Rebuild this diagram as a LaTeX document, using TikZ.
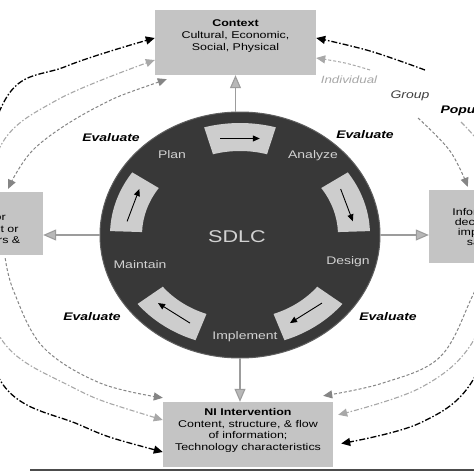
\documentclass[tikz,border=0pt]{standalone}
\usepackage{fontspec}
\setmainfont{Liberation Sans}[FakeStretch=1.27]
\usetikzlibrary{arrows.meta,shapes.geometric,calc}
\definecolor{boxgray}{HTML}{C4C4C4}
\definecolor{ellfill}{HTML}{383838}
\definecolor{ellrim}{HTML}{5E5E5E}
\definecolor{segfill}{HTML}{CDCDCD}
\definecolor{conngray}{HTML}{9C9C9C}
\definecolor{arrgray}{HTML}{B8B8B8}
\definecolor{midgray}{HTML}{A8A8A8}
\definecolor{innergray}{HTML}{858585}
\definecolor{ringtext}{HTML}{D2D2D2}
\begin{document}
\begin{tikzpicture}[x=1pt,y=-1pt,
  box/.style={draw=none,fill=boxgray,inner sep=0},
  conn/.style={draw=conngray,line width=1.1pt,-{Triangle[length=13pt,width=11pt,fill=arrgray]}},
  blkdd/.style={draw=black,line width=1.3pt,dash pattern=on 6pt off 2pt on 1.5pt off 2pt,
     >={Triangle[length=9pt,width=8pt]}},
  graydd/.style={draw=midgray,line width=1.1pt,dash pattern=on 5pt off 2pt on 1.5pt off 2pt,
     >={Triangle[length=9pt,width=8pt,fill=midgray]}},
  graydash/.style={draw=innergray,line width=1pt,dash pattern=on 3pt off 2pt,
     >={Triangle[length=9pt,width=8pt,fill=innergray]}},
  segarrow/.style={draw=black,line width=0.9pt,-{Triangle[length=7pt,width=6pt]}},
  ringlbl/.style={text=ringtext,font=\fontsize{11}{13}\selectfont},
  evallbl/.style={font=\fontsize{11}{13}\selectfont\bfseries\itshape},
  boxtxt/.style={align=center,font=\fontsize{9.8}{11.7}\selectfont,inner sep=0}
]
\clip (0,0) rectangle (474,474);
\fill[white] (0,0) rectangle (474,474);

% boxes
\node[box,minimum width=161,minimum height=65] (ctx) at (235.5,42.5) {};
\node[box,minimum width=136,minimum height=63] (lbox) at (-25,223.5) {};
\node[box,minimum width=110,minimum height=73] (rbox) at (484,226.5) {};
\node[box,minimum width=170,minimum height=65] (ni) at (248,434.5) {};

\node[boxtxt] (ctxt) at (235.5,36) {\textbf{Context}\\Cultural, Economic,\\Social, Physical};
\node[boxtxt] (nit) at (248,430.5) {\textbf{NI Intervention}\\Content, structure, \& flow\\of information;\\Technology characteristics};
\node[boxtxt] (lt) at (-25,229.5) {Support for\\management or\\care providers \&};
\node[boxtxt,font=\fontsize{9.8}{10}\selectfont] (rt) at (483.5,227.5) {Information\\decision \&\\improved\\safety};

% SDLC ellipse
\node[ellipse,fill=ellfill,draw=ellrim,line width=1pt,minimum width=280,minimum height=246,inner sep=0] (sdlc) at (240,235) {};
\foreach \a in {-90,-18,54,126,198}{
  \fill[segfill] ($(sdlc.center)+(\a-16:130 and 112)$)
     arc[start angle=\a-16,end angle=\a+16,x radius=130,y radius=112]
     -- ($(sdlc.center)+(\a+16:98 and 84)$)
     arc[start angle=\a+16,end angle=\a-16,x radius=98,y radius=84] -- cycle;
  \draw[segarrow] ($(sdlc.center)+(\a-10:114 and 98)$) -- ($(sdlc.center)+(\a+10:114 and 98)$);
}
\node[text=ringtext,font=\fontsize{17}{19}\selectfont] (sdlct) at (237,237) {SDLC};
\node[ringlbl] (plan) at (172,155) {Plan};
\node[ringlbl] (analyze) at (313,156) {Analyze};
\node[ringlbl] (design) at (348,262) {Design};
\node[ringlbl] (implement) at (245,337) {Implement};
\node[ringlbl] (maintain) at (140,265) {Maintain};

% straight connectors
\draw[conn] (sdlc.north -| ctx.south) -- (ctx.south);
\draw[conn] (sdlc.south) -- (sdlc.south |- ni.north);
\draw[conn] (sdlc.west) -- (sdlc.west -| lbox.east);
\draw[conn] (sdlc.east) -- (sdlc.east -| rbox.west);

% Evaluate labels
\node[evallbl] (ev1) at (111,138) {Evaluate};
\node[evallbl] (ev2) at (365,135) {Evaluate};
\node[evallbl] (ev3) at (92,317) {Evaluate};
\node[evallbl] (ev4) at (388,317) {Evaluate};

% level labels
\node[font=\fontsize{10.5}{12}\selectfont\itshape,text=midgray] (indiv) at (349,80) {Individual};
\node[font=\fontsize{11}{13}\selectfont\itshape,text=black!75] (group) at (410,96) {Group};
\node[font=\fontsize{11}{13}\selectfont\bfseries\itshape,anchor=west] (popul) at (437,111) {Population};

% left arcs
\coordinate (LBa) at (ni.west |- 0,452);
\coordinate (LBb) at (ctx.west |- 0,38);
\draw[blkdd,<->] plot[smooth,tension=0.6] coordinates {(LBa) (80,425) (0,380) (-30,240) (5,100) (67,66) (LBb)};
\coordinate (LGa) at (ni.west |- 0,420);
\coordinate (LGb) at (ctx.west |- 0,60);
\draw[graydd,<->] plot[smooth,tension=0.6] coordinates {(LGa) (70,386) (0,337) (-16,240) (0,147) (57,100) (LGb)};
\coordinate (LIa) at ($(ctx.south west)+(12,4)$);
\coordinate (LIb) at ($(lbox.north east)+(-35,-3)$);
\draw[graydash,<->] plot[smooth,tension=0.6] coordinates {(LIa) (95,108) (35,148) (LIb)};
\coordinate (LJa) at ($(lbox.south east)+(-38,3)$);
\coordinate (LJb) at ($(ni.north west)+(0,-4)$);
\draw[graydash,->] plot[smooth,tension=0.6] coordinates {(LJa) (14,292) (43,347) (100,383) (LJb)};

% right arcs
\coordinate (RBs) at (425,70);
\coordinate (RBb) at (ctx.east |- 0,38);
\draw[blkdd,->] plot[smooth,tension=0.6] coordinates {(RBs) (370,51) (RBb)};
\coordinate (RIs) at (370,70);
\coordinate (RIb) at (ctx.east |- 0,58);
\draw[graydash,draw=midgray,->,>={Triangle[length=9pt,width=8pt,fill=midgray]}] plot[smooth,tension=0.6] coordinates {(RIs) (345,63) (RIb)};
\coordinate (RJs) at (418,118);
\coordinate (RJb) at ($(rbox.north west)+(39,-3)$);
\draw[graydash,->] plot[smooth,tension=0.6] coordinates {(RJs) (450,151) (RJb)};
\coordinate (RKs) at (461,122);
\coordinate (RKe) at (492,160);
\draw[graydd] plot[smooth,tension=0.6] coordinates {(RKs) (474,136) (RKe)};
\coordinate (RLs) at (492,250);
\coordinate (RLb) at ($(ni.north east)+(-10,-6)$);
\draw[graydash,->] plot[smooth,tension=0.6] coordinates {(RLs) (472,297) (440,357) (383,383) (RLb)};
\coordinate (RMs) at (500,262);
\coordinate (RMb) at ($(ni.north east)+(5,13)$);
\draw[graydd,->] plot[smooth,tension=0.6] coordinates {(RMs) (472,343) (420,388) (RMb)};
\coordinate (RNs) at (505,282);
\coordinate (RNb) at ($(ni.east)+(8,9)$);
\draw[blkdd,->] plot[smooth,tension=0.6] coordinates {(RNs) (473,380) (420,423) (RNb)};

% bottom rule
\draw[line width=1.5pt,draw=black!70] (30,470) -- (474,470);
\end{tikzpicture}
\end{document}
